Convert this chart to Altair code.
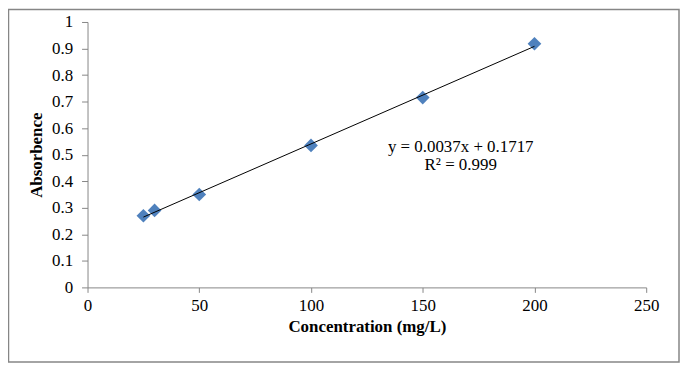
import altair as alt
import pandas as pd

concentration = [25, 30, 50, 100, 150, 200]
absorbance = [0.27, 0.29, 0.35, 0.535, 0.715, 0.918]
eq_line1 = "y = 0.0037x + 0.1717"
eq_line2 = "R² = 0.999"
x_ticks = [0, 50, 100, 150, 200, 250]
y_ticks = [0, 0.1, 0.2, 0.3, 0.4, 0.5, 0.6, 0.7, 0.8, 0.9, 1]

df = pd.DataFrame({"c": concentration, "a": absorbance})

FONT = "Liberation Serif"
FS = 17
W, H = 562, 267

xs = alt.Scale(domain=[0, 250], nice=False)
ys = alt.Scale(domain=[0, 1], nice=False)

xaxis = alt.Axis(values=x_ticks, title="Concentration (mg/L)", grid=False,
                 domainColor="#868686", tickColor="#868686", tickSize=5, labelFont=FONT, labelFontSize=FS,
                 labelColor="black", titleFont=FONT, titleFontSize=FS, titleFontWeight="bold", titleColor="black",
                 labelPadding=5, titlePadding=5, labelOverlap=False, labelFlush=False)
yaxis = alt.Axis(values=y_ticks, format=".1~f", title="Absorbence", grid=False,
                 domainColor="#868686", tickColor="#868686", tickSize=6, labelFont=FONT, labelFontSize=FS,
                 labelColor="black", titleFont=FONT, titleFontSize=FS, titleFontWeight="bold", titleColor="black",
                 labelPadding=9, titlePadding=6, labelOverlap=False, labelFlush=False)

base = alt.Chart(df)

points = base.mark_point(shape="diamond", filled=True, size=190, color="#4F81BD", opacity=1).encode(
    x=alt.X("c:Q", scale=xs, axis=xaxis),
    y=alt.Y("a:Q", scale=ys, axis=yaxis),
)

trend = base.transform_regression("c", "a", extent=[25, 200]).mark_line(color="black", strokeWidth=1).encode(
    x=alt.X("c:Q", scale=xs, axis=xaxis), y=alt.Y("a:Q", scale=ys, axis=yaxis)
)

t1 = alt.Chart(pd.DataFrame({"t": [eq_line1]})).mark_text(font=FONT, fontSize=FS, color="black").encode(
    x=alt.datum(167, scale=xs), y=alt.datum(0.528, scale=ys), text="t:N")
t2 = alt.Chart(pd.DataFrame({"t": [eq_line2]})).mark_text(font=FONT, fontSize=FS, color="black").encode(
    x=alt.datum(167, scale=xs), y=alt.datum(0.461, scale=ys), text="t:N")

frame = alt.Chart(pd.DataFrame({"k": [0]})).mark_rect(fill=None, stroke="#868686", strokeWidth=1.5).encode(
    x=alt.value(-79.5), x2=alt.value(W + 33), y=alt.value(-12.5), y2=alt.value(H + 75))

chart = alt.layer(points, trend, t1, t2, frame).properties(
    width=W, height=H,
    autosize=alt.AutoSizeParams(type="none"),
    padding={"left": 80, "top": 13, "right": 34, "bottom": 76},
    background="white",
).configure_view(stroke=None).configure_axis(labelOverlap=False, tickCount=11)

chart.save("out.html", embed_options={"renderer": "svg", "actions": False})
